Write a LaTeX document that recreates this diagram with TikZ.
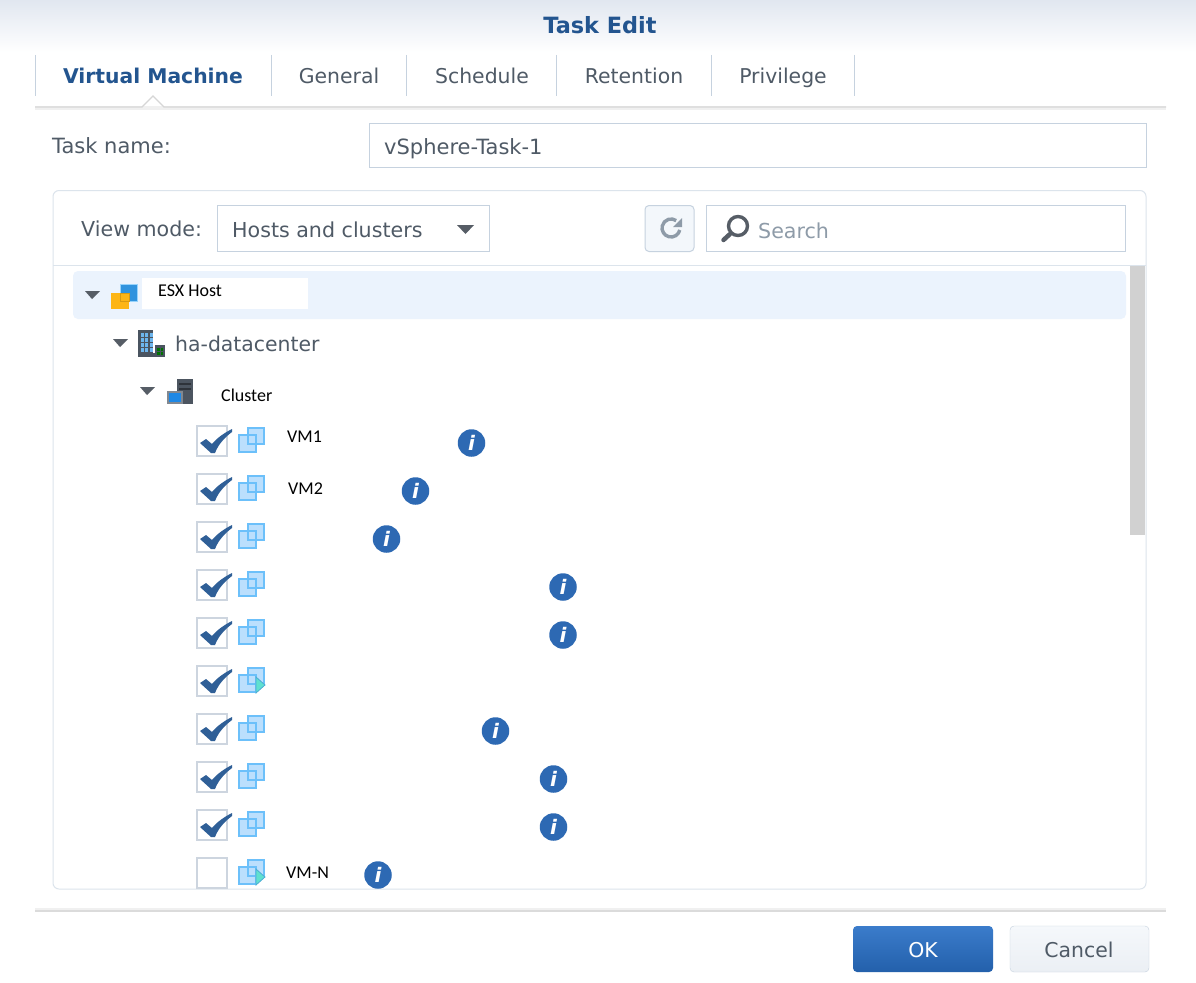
\documentclass[tikz,border=0pt]{standalone}
\usepackage{fontspec}
\setmainfont{DejaVu Sans}
\newfontfamily\smallui{Carlito}
\definecolor{titleblue}{HTML}{23558F}
\definecolor{uitext}{HTML}{4F5A66}
\definecolor{hintgray}{HTML}{8E9BA8}
\definecolor{linegray}{HTML}{C6D2DF}
\definecolor{panelline}{HTML}{DCE4EC}
\definecolor{headtop}{HTML}{E1E7F0}
\definecolor{rowblue}{HTML}{EBF3FD}
\definecolor{vmfill}{HTML}{BBDFFD}
\definecolor{vmline}{HTML}{6CC0FA}
\definecolor{checkblue}{HTML}{2F5F97}
\definecolor{boxgray}{HTML}{CDD5DF}
\definecolor{infoblue}{HTML}{2D69B3}
\definecolor{arrowgray}{HTML}{565D66}
\definecolor{oktop}{HTML}{3B7CCB}
\definecolor{okbottom}{HTML}{2360AB}
\definecolor{canceltop}{HTML}{F5F8FB}
\definecolor{cancelbottom}{HTML}{EBEFF4}
\definecolor{reloadfill}{HTML}{F3F7FB}
\definecolor{hostblue}{HTML}{3093DE}
\definecolor{hostorange}{HTML}{FDB515}
\definecolor{playfill}{HTML}{5FE0D0}
\definecolor{buildgray}{HTML}{4A5460}
\definecolor{buildwin}{HTML}{6DB6EE}
\definecolor{servergray}{HTML}{4C5560}
\definecolor{monitorblue}{HTML}{1E88E5}
\tikzset{
  x=1pt,y=-1pt,
  uitxt/.style={inner sep=0pt,anchor=base west,text=uitext,font=\fontsize{20.6}{24}\selectfont},
  tabtxt/.style={inner sep=0pt,anchor=base,text=uitext,font=\fontsize{20.4}{24}\selectfont},
  boldtxt/.style={inner sep=0pt,anchor=base,text=titleblue,font=\bfseries\fontsize{20.3}{24}\selectfont},
  vmlabel/.style={inner sep=0pt,anchor=base west,text=black,font=\smallui\fontsize{18}{20}\selectfont},
  tabsep/.style={draw=linegray,line width=0.8pt},
  infonode/.style={circle,fill=infoblue,minimum size=27.5pt,inner sep=0pt,text=white,font=\bfseries\itshape\fontsize{20}{20}\selectfont},
}
\newcommand{\vmicon}[2]{%
  \fill[vmfill,draw=vmline,line width=1.6pt] (#1+10,#2-11) rectangle (#1+26,#2+5);
  \fill[vmfill,draw=vmline,line width=1.6pt] (#1+1,#2-4) rectangle (#1+18,#2+13);
  \draw[vmline,line width=1.3pt] (#1+10,#2-4) rectangle (#1+18,#2+5);
}
\newcommand{\checkbox}[2]{%
  \draw[boxgray,line width=1.8pt,fill=white] (#1,#2-15) rectangle +(30,30);
}
\newcommand{\checkmarkicon}[2]{%
  \fill[checkblue] (#1+2,#2+2) -- (#1+8,#2-2) -- (#1+14,#2+3) .. controls (#1+19,#2-3) and (#1+26,#2-8) .. (#1+34,#2-12) -- (#1+34,#2-9) .. controls (#1+26,#2-3) and (#1+20,#2+4) .. (#1+17,#2+12) -- (#1+13,#2+12) -- cycle;
}
\newcommand{\playmark}[2]{%
  \fill[playfill,draw=vmline!70!teal,line width=0.8pt] (#1+18,#2-2) -- (#1+27,#2+6) -- (#1+18,#2+14) -- cycle;
}
\newcommand{\treearrow}[2]{%
  \fill[arrowgray] (#1-7,#2-4) -- (#1+8,#2-4) -- (#1,#2+4) -- cycle;
}
\begin{document}
\begin{tikzpicture}
\useasboundingbox (0,0) rectangle (1196,982);
\fill[white] (0,0) rectangle (1196,982);
% header
\shade[top color=headtop,bottom color=white] (0,0) rectangle (1196,52);
\node[boldtxt,font=\bfseries\fontsize{22.4}{24}\selectfont] (title) at (600,34) {Task Edit};
% tabs
\foreach \tx in {35,271,406,556,711,854}{\draw[tabsep] (\tx,55) -- (\tx,96);}
\node[boldtxt] (tab1) at (153,84) {Virtual Machine};
\node[tabtxt] (tab2) at (339,84) {General};
\node[tabtxt] (tab3) at (482,84) {Schedule};
\node[tabtxt] (tab4) at (634,84) {Retention};
\node[tabtxt] (tab5) at (783,84) {Privilege};
\fill[black!6] (35,106) rectangle (1166,110);
\draw[black!16,line width=1.4pt] (35,107) -- (142,107) -- (153,96) -- (164,107) -- (1166,107);
% task name
\node[uitxt,font=\fontsize{21}{24}\selectfont] (tn) at (52,153) {Task name:};
\draw[linegray,line width=1pt,fill=white] (369,123) rectangle (1146,167);
\node[uitxt,font=\fontsize{21}{24}\selectfont] (tv) at (384,154) {vSphere-Task-1};
% panel
\draw[panelline,line width=1pt,rounded corners=6pt,fill=white] (53,190.5) rectangle (1146,889);
\node[uitxt] (vm) at (81,236) {View mode:};
\draw[linegray,line width=1pt,fill=white] (217,205.5) rectangle (489,251.5);
\node[uitxt] (hc) at (232,237) {Hosts and clusters};
\fill[arrowgray] (457,225) -- (474,225) -- (465.5,234) -- cycle;
\draw[linegray,line width=1pt,fill=reloadfill,rounded corners=4pt] (645,205.5) rectangle (694,251.5);
\draw[hintgray,line width=3.4pt] (679.8,230) arc[start angle=13,end angle=305,radius=9];
\fill[hintgray] (682,218) -- (682,227) -- (673,227) -- cycle;
\draw[linegray,line width=1pt,fill=white] (706.5,205.5) rectangle (1125.5,251.5);
\draw[arrowgray,line width=3.4pt] (738,226) circle[radius=9.5];
\draw[arrowgray,line width=4.5pt,line cap=round] (730,234) -- (723.5,240);
\node[uitxt,text=hintgray] (search) at (758,238) {Search};
\draw[panelline,line width=1pt] (53,265) -- (1146,265);
% scrollbar
\fill[black!18] (1130,266) rectangle (1145,535);
% row 1
\fill[rowblue,rounded corners=5pt] (73,271) rectangle (1126,319);
\fill[white] (142,278) rectangle (308,309);
\treearrow{92}{295}
\fill[hostblue,draw=vmline!70!white,line width=1pt] (120,284) rectangle (137.5,301);
\fill[hostorange] (111,293) rectangle (129,309);
\draw[hostorange!85!black,line width=1pt] (120,293) rectangle (129,301);
\node[vmlabel] (host) at (158,296) {ESX Host};
% row 2
\treearrow{120}{343}
\fill[buildgray] (138,330) rectangle (153,357);
\foreach \wx in {140.5,145,149.5}{\foreach \wy in {333,338,343,348}{\fill[buildwin] (\wx,\wy) rectangle +(3,3.5);}}
\fill[buildgray] (153,353) rectangle (165,357);
\fill[buildgray] (155,345) rectangle (165,357);
\foreach \wx in {157,160.5}{\foreach \wy in {348,352}{\fill[green!45!black] (\wx,\wy) rectangle +(2.5,3);}}
\node[uitxt,font=\fontsize{20.4}{24}\selectfont] (dc) at (175,351) {ha-datacenter};
% row 3
\treearrow{147}{391}
\fill[servergray] (177,379) rectangle (193,404);
\fill[servergray!60!black] (179,383) rectangle (191,385);
\fill[servergray!60!black] (179,388) rectangle (191,390);
\fill[white] (166,391) rectangle (183,398);
\fill[servergray!70!white] (167,391) rectangle (183,404);
\fill[monitorblue] (169,393) rectangle (181,401.5);
\node[vmlabel] (cl) at (221,401) {Cluster};
% vm rows
\foreach \ry in {441,489,537,585,633,681,729,777,825}{
  \checkbox{197}{\ry}
  \checkmarkicon{198}{\ry}
}
\checkbox{197}{873}
\foreach \ry in {439,487,535,583,631,679,727,775,823,871}{\vmicon{238}{\ry}}
\playmark{238}{679}
\playmark{238}{871}
\node[vmlabel] (vm1) at (287,442) {VM1};
\node[vmlabel] (vm2) at (288,494) {VM2};
\node[vmlabel] (vmn) at (286,878) {VM-N};
\node[infonode] (i1) at (471.5,443) {i};
\node[infonode] (i2) at (415.5,491) {i};
\node[infonode] (i3) at (386.5,539) {i};
\node[infonode] (i4) at (563,587) {i};
\node[infonode] (i5) at (563,635) {i};
\node[infonode] (i6) at (495.5,731) {i};
\node[infonode] (i7) at (553.5,779) {i};
\node[infonode] (i8) at (553.5,827) {i};
\node[infonode] (i9) at (378,875) {i};
% footer
\fill[black!6] (35,908) rectangle (1166,912);
\draw[black!14,line width=1.2pt] (35,911) -- (1166,911);
\shade[top color=oktop,bottom color=okbottom,rounded corners=4pt] (853,926) rectangle (993,972);
\node[inner sep=0pt,anchor=base,text=white,font=\fontsize{20.4}{24}\selectfont] (ok) at (923,957) {OK};
\shade[top color=canceltop,bottom color=cancelbottom,rounded corners=4pt,draw=linegray] (1010,926) rectangle (1149,972);
\node[tabtxt] (cancel) at (1079,957) {Cancel};
\end{tikzpicture}
\end{document}
